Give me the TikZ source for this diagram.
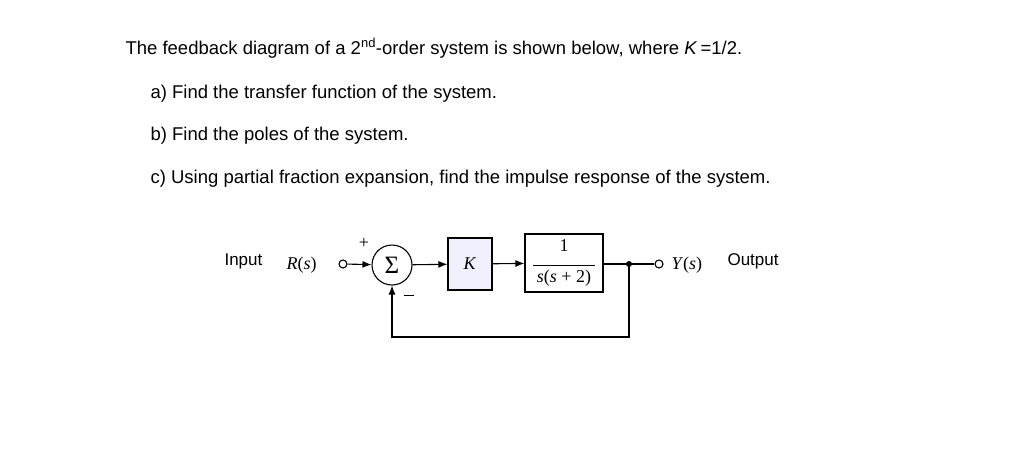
\documentclass[tikz,border=0pt]{standalone}
\usepackage{fontspec}
\setmainfont{Liberation Sans}
\newfontfamily\tms{Liberation Serif}
\usetikzlibrary{arrows.meta}
\begin{document}
\begin{tikzpicture}[x=1pt,y=-1pt,line width=1.1pt,
  txt/.style={anchor=base west,inner sep=0,font=\fontsize{18.5}{22}\selectfont},
  blk/.style={draw,minimum width=44pt,minimum height=52pt,inner sep=0,font=\tms\fontsize{18}{21}\selectfont},
  lbl/.style={inner sep=0,font=\tms\fontsize{18}{21}\selectfont},
  arr/.style={-{Latex[length=9pt,width=7pt]}},
  term/.style={circle,draw,fill=white,minimum size=8pt,inner sep=0}]
\useasboundingbox (0,0) rectangle (1011,461);
\node[txt] (t0) at (125,54) {The feedback diagram of a 2\textsuperscript{nd}-order system is shown below, where \textit{K}\,=1/2.};
\node[txt] (ta) at (150,98) {a) Find the transfer function of the system.};
\node[txt] (tb) at (150,140) {b) Find the poles of the system.};
\node[txt] (tc) at (150,183) {c) Using partial fraction expansion, find the impulse response of the system.};
\node[anchor=west,inner sep=0,font=\fontsize{17}{20}\selectfont] (inp) at (224,261) {Input};
\node[lbl,anchor=west] (R) at (286,265) {\textit{R}(\textit{s})};
\node[term] (rin) at (343,264) {};
\node[circle,draw,minimum size=40pt,inner sep=0,font=\tms\fontsize{25}{27}\selectfont] (sum) at (392,265) {Σ};
\node[blk,fill=blue!6] (K) at (470,264) {\textit{K}};
\node[blk,minimum width=78pt,minimum height=58pt] (G) at (564,263) {\begin{tabular}{@{}c@{}}1\\[-7pt]\rule{62pt}{0.6pt}\\[-4pt]\textit{s}(\textit{s} + 2)\end{tabular}};
\coordinate (j) at (629,264);
\node[term] (yout) at (659,264) {};
\node[lbl,anchor=west] (Y) at (671,265) {\textit{Y}(\textit{s})};
\node[anchor=west,inner sep=0,font=\fontsize{17}{20}\selectfont] (outp) at (727,261) {Output};
\node[lbl] (plus) at (364,243) {+};
\node[lbl] (minus) at (409,295) {\rule{10pt}{0.8pt}};
\coordinate (b1) at (629,337);
\coordinate (b2) at (392,337);
\draw[arr] (rin) -- (sum);
\draw[arr] (sum) -- (K);
\draw[arr] (K) -- (G);
\draw (G.east |- j) -- (yout);
\fill (j) circle (3pt);
\draw[arr] (j) -- (b1) -- (b2) -- (sum);
\end{tikzpicture}
\end{document}
